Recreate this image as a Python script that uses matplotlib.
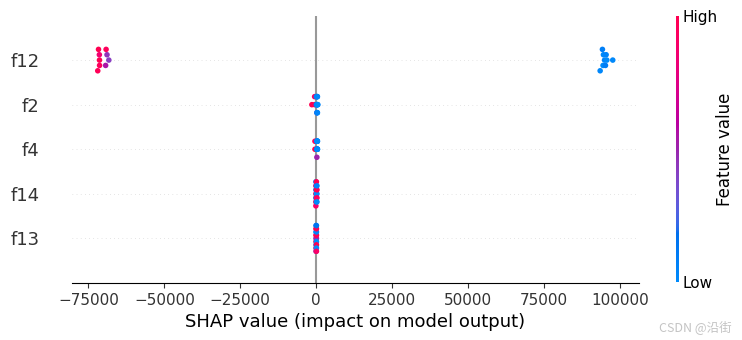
import numpy as np
import matplotlib
matplotlib.use("Agg")
import matplotlib.pyplot as plt
from matplotlib.colors import LinearSegmentedColormap
from matplotlib.cm import ScalarMappable

# ---------------- data (bottom row first) ----------------
feature_names = ["f13", "f14", "f4", "f2", "f12"]

shap_f12 = [-71380, -71420, -71350, -71700, -71950, -68300, -68900, -69350, -69200,
            95000, 94630, 94500, 94300, 93550, 95750, 95520, 95300, 97700]
feat_f12 = [1.0, 0.85, 0.95, 1.0, 0.97, 0.42, 0.45, 0.55, 0.95,
            0.05, 0.02, 0.0, 0.08, 0.03, 0.0, 0.05, 0.1, 0.02]

shap_f2 = [-1420, -500, -505, 330, 330, 330, 560, 200, 200, 200,
           420, 420, 420, 50, 50, 270, 270, 270]
feat_f2 = [1.0, 1.0, 0.95, 0.0, 0.05, 0.02, 0.05, 0.0, 0.1, 0.3,
           0.0, 0.05, 0.0, 0.1, 0.05, 0.0, 0.02, 0.05]

shap_f4 = [-400, -400, 430, 430, 230, 230, 230, 300, 300, 350,
           350, 380, 380, 250, 250, 330, 330, 400]
feat_f4 = [1.0, 0.95, 0.0, 0.05, 0.02, 0.0, 0.5, 0.05, 0.0, 0.1,
           0.0, 0.05, 0.02, 0.0, 0.1, 0.05, 0.0, 0.02]

shap_f14 = [-100, -100, -100, -100, -100, -100, -100,
            80, 80, 80, 80, 80, 80,
            250, 250, 250, 250, 250]
feat_f14 = [1.0, 0.0, 0.05, 0.95, 1.0, 0.0, 0.9,
            0.0, 1.0, 0.95, 0.05, 0.0, 1.0,
            0.0, 1.0, 0.95, 0.05, 0.0]

shap_f13 = [-60, -60, -60, -60, -60, -60, -60, -60, -60,
            90, 90, 90, 90, 90, 90, 90, 90, 90]
feat_f13 = [0.45, 1.0, 1.0, 0.05, 0.0, 1.0, 0.9, 0.15, 0.5,
            0.5, 1.0, 0.0, 0.05, 1.0, 1.0, 0.0, 0.15, 0.9]

shap_rows = [shap_f13, shap_f14, shap_f4, shap_f2, shap_f12]
feat_rows = [feat_f13, feat_f14, feat_f4, feat_f2, feat_f12]

# ---------------- shap red_blue colormap (LCH interpolation) ----------------
def lch2rgb(l, c, h):
    a = c * np.cos(h)
    b = c * np.sin(h)
    fy = (l + 16.0) / 116.0
    fx = a / 500.0 + fy
    fz = fy - b / 200.0

    def finv(t):
        return np.where(t ** 3 > 0.008856, t ** 3, (t - 16.0 / 116.0) / 7.787)

    X = 0.95047 * finv(fx)
    Y = finv(fy)
    Z = 1.08883 * finv(fz)
    M = np.array([[3.2406, -1.5372, -0.4986],
                  [-0.9689, 1.8758, 0.0415],
                  [0.0557, -0.2040, 1.0570]])
    rgb = M @ np.array([X, Y, Z])
    rgb = np.where(rgb > 0.0031308,
                   1.055 * np.power(np.clip(rgb, 1e-12, None), 1 / 2.4) - 0.055,
                   12.92 * rgb)
    return np.clip(rgb, 0, 1)

blue_lch = [54.0, 70.0, 4.6588]
red_lch = [54.0, 90.0, 0.35470565 + 2 * np.pi]
l_mid = 40.0
nsteps = 100
l_vals = list(np.linspace(blue_lch[0], l_mid, nsteps // 2)) + list(np.linspace(l_mid, red_lch[0], nsteps // 2))
c_vals = np.linspace(blue_lch[1], red_lch[1], nsteps)
h_vals = np.linspace(blue_lch[2], red_lch[2], nsteps)
cols = [lch2rgb(l, c, h) for l, c, h in zip(l_vals, c_vals, h_vals)]
red_blue = LinearSegmentedColormap.from_list("red_blue", cols, N=256)

# ---------------- beeswarm layout (shap algorithm) ----------------
def swarm_offsets(vals, row_height=0.4, nbins=100):
    vals = np.asarray(vals, float)
    quant = np.round(nbins * (vals - vals.min()) / (vals.max() - vals.min() + 1e-8))
    inds = np.argsort(quant, kind="stable")
    layer = 0
    last = -1
    ys = np.zeros(len(vals))
    for ind in inds:
        if quant[ind] != last:
            layer = 0
        ys[ind] = np.ceil(layer / 2) * ((layer % 2) * 2 - 1)
        layer += 1
        last = quant[ind]
    ys *= 0.9 * (row_height / np.max(ys + 1))
    return ys

# ---------------- figure ----------------
W, H = 742, 340
fig = plt.figure(figsize=(W / 100, H / 100), dpi=100)
ax = fig.add_axes([72 / W, (H - 283) / H, (638.5 - 72) / W, (283 - 15.5) / H])

axis_color = "#333333"
ax.axvline(0, color="#999999", zorder=-1)
for pos, (sv, fv) in enumerate(zip(shap_rows, feat_rows)):
    ax.axhline(pos, color="#cccccc", lw=0.5, dashes=(1, 5), zorder=-1)
    ys = swarm_offsets(sv)
    ax.scatter(sv, pos + ys, c=fv, cmap=red_blue, vmin=0, vmax=1,
               s=16, linewidths=0, alpha=1, zorder=3)

ax.set_ylim(-1, len(feature_names))
ax.set_yticks(range(len(feature_names)))
ax.set_yticklabels(feature_names, fontsize=13)
ax.tick_params("y", length=0, pad=23.5, colors=axis_color, labelcolor=axis_color)
ax.tick_params("x", labelsize=11, color=axis_color, labelcolor=axis_color)
for s in ["left", "right", "top"]:
    ax.spines[s].set_visible(False)
ax.set_xlabel("SHAP value (impact on model output)", fontsize=13)

cax = fig.add_axes([675.5 / W, (H - 282) / H, 3 / W, (282 - 15.8) / H])
sm = ScalarMappable(cmap=red_blue)
sm.set_array([0, 1])
cb = fig.colorbar(sm, cax=cax, ticks=[0, 1])
cb.set_ticklabels(["Low", "High"])
cb.set_label("Feature value", size=12, labelpad=-1)
cb.ax.tick_params(labelsize=11, length=0, pad=3)
cb.outline.set_visible(False)

fig.text(732 / W, 1 - 327 / H, "CSDN @沿街", ha="right", va="center", fontsize=9,
         color="#c4c4c4", family=["Noto Sans CJK SC", "DejaVu Sans"])

fig.savefig("out.png", dpi=100)
